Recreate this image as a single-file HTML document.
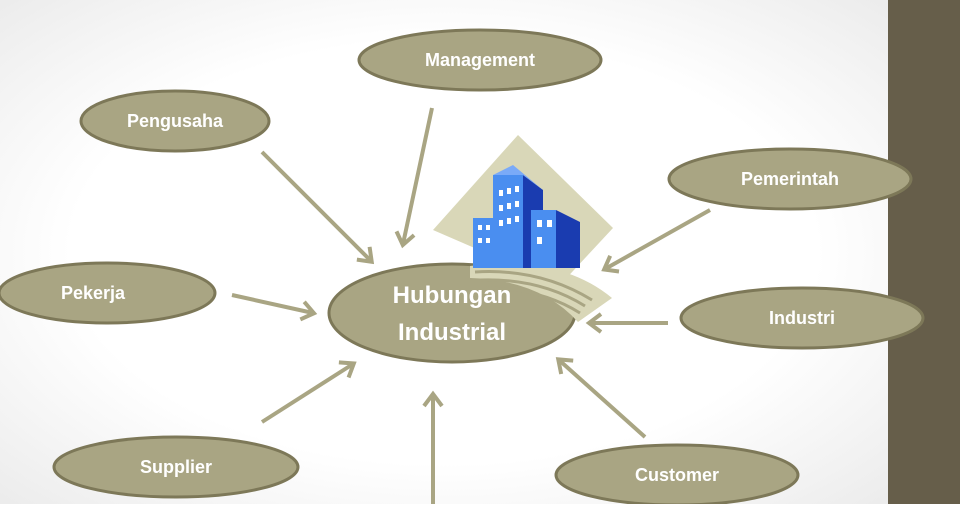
<!DOCTYPE html>
<html><head><style>
body{margin:0;width:960px;height:504px;overflow:hidden;background:#fff;font-family:"Liberation Sans","DejaVu Sans",sans-serif}
</style></head><body>
<svg width="960" height="504" viewBox="0 0 960 504" xmlns="http://www.w3.org/2000/svg">
<defs>
<radialGradient id="bg" cx="0.5" cy="0.5" r="0.7"><stop offset="0.6" stop-color="#fff"/><stop offset="1" stop-color="#ececec"/></radialGradient>
<marker id="ar" markerWidth="22" markerHeight="22" refX="13" refY="11" orient="auto" markerUnits="userSpaceOnUse" viewBox="0 0 22 22">
<path d="M2,2 L14,11 L2,20" fill="none" stroke="#a9a583" stroke-width="4"/></marker>
</defs>
<rect width="888" height="504" fill="url(#bg)"/>
<rect x="888" y="0" width="72" height="504" fill="#665e4a"/>
<g stroke="#a9a583" stroke-width="4" fill="none" marker-end="url(#ar)">
<line x1="432" y1="108" x2="403" y2="244"/>
<line x1="262" y1="152" x2="371" y2="261"/>
<line x1="710" y1="210" x2="605" y2="269"/>
<line x1="232" y1="295" x2="313" y2="313"/>
<line x1="668" y1="323" x2="590" y2="323"/>
<line x1="262" y1="422" x2="353" y2="364"/>
<line x1="645" y1="437" x2="559" y2="360"/>
<line x1="433" y1="504" x2="433" y2="395"/>
</g>
<g fill="#a9a583" stroke="#7d7858" stroke-width="3">
<ellipse cx="480" cy="60" rx="121" ry="30"/>
<ellipse cx="175" cy="121" rx="94" ry="30"/>
<ellipse cx="790" cy="179" rx="121" ry="30"/>
<ellipse cx="107" cy="293" rx="108" ry="30"/>
<ellipse cx="802" cy="318" rx="121" ry="30"/>
<ellipse cx="176" cy="467" rx="122" ry="30"/>
<ellipse cx="677" cy="475" rx="121" ry="30"/>
<ellipse cx="452" cy="313" rx="123" ry="49"/>
</g>
<!-- building clipart -->
<polygon points="518,135 613,228 560,285 433,230" fill="#d9d7b8"/>
<path d="M470,266 Q560,255 612,298 L578,322 Q540,280 470,278 Z" fill="#d9d7b8"/>
<g stroke="#a9a583" stroke-width="3" fill="none">
<path d="M475,272 Q540,268 592,300"/><path d="M480,280 Q540,278 585,306"/><path d="M485,288 Q540,288 580,313"/>
</g>
<rect x="473" y="218" width="22" height="50" fill="#4a8ef0"/>
<rect x="493" y="175" width="30" height="93" fill="#4a8ef0"/>
<polygon points="523,175 543,190 543,268 523,268" fill="#1a3cb0"/>
<polygon points="493,175 513,165 543,190 523,175" fill="#7aaaf8"/>
<rect x="531" y="210" width="25" height="58" fill="#4a8ef0"/>
<polygon points="556,210 580,222 580,268 556,268" fill="#1a3cb0"/>
<g fill="#fff">
<rect x="478" y="225" width="4" height="5"/><rect x="486" y="225" width="4" height="5"/>
<rect x="478" y="238" width="4" height="5"/><rect x="486" y="238" width="4" height="5"/>
<rect x="499" y="190" width="4" height="6"/><rect x="507" y="188" width="4" height="6"/><rect x="515" y="186" width="4" height="6"/>
<rect x="499" y="205" width="4" height="6"/><rect x="507" y="203" width="4" height="6"/><rect x="515" y="201" width="4" height="6"/>
<rect x="499" y="220" width="4" height="6"/><rect x="507" y="218" width="4" height="6"/><rect x="515" y="216" width="4" height="6"/>
<rect x="537" y="220" width="5" height="7"/><rect x="547" y="220" width="5" height="7"/>
<rect x="537" y="237" width="5" height="7"/>
</g>
<g fill="#fff" font-weight="bold" font-size="18" text-anchor="middle">
<text x="480" y="66">Management</text>
<text x="175" y="127">Pengusaha</text>
<text x="790" y="185">Pemerintah</text>
<text x="93" y="299">Pekerja</text>
<text x="802" y="324">Industri</text>
<text x="176" y="473">Supplier</text>
<text x="677" y="481">Customer</text>
<text x="452" y="303" font-size="24">Hubungan</text>
<text x="452" y="340" font-size="24">Industrial</text>
</g>
</svg>
</body></html>
